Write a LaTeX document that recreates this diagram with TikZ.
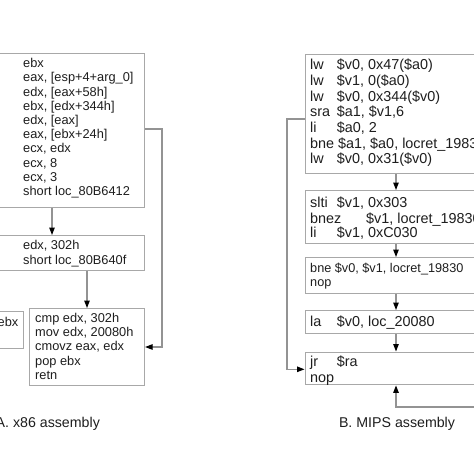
\documentclass[tikz,border=0pt]{standalone}
\usepackage{fontspec}
\setmainfont{Liberation Sans}
\usetikzlibrary{arrows.meta}
\tikzset{
  box/.style={draw=boxgray, line width=1.1pt, anchor=north west, inner sep=0pt},
  conn/.style={draw=linegray, line width=1.1pt},
  arr/.style={conn, -{Triangle[width=5.5pt,length=7.5pt,color=black]}},
  xtxt/.style={anchor=north west, inner sep=0pt, align=left, text=textcol,
    font=\fontsize{12.8}{14.2}\selectfont},
  mtxt/.style={anchor=north west, inner sep=0pt, align=left, text=textcol},
  captxt/.style={anchor=base, inner sep=0pt, text=textcol,
    font=\fontsize{14.2}{16}\selectfont},
}
\definecolor{boxgray}{HTML}{A8A8A8}
\definecolor{linegray}{HTML}{939393}
\definecolor{textcol}{HTML}{1E1E1E}
\newcommand{\mn}[1]{\makebox[26.7pt][l]{#1}}
\begin{document}
\begin{tikzpicture}[x=1pt,y=-1pt]
\useasboundingbox (0,0) rectangle (474,474);
\clip (0,0) rectangle (474,474);
\fill[white] (0,0) rectangle (474,474);
% ---------- x86 ----------
\node[box, minimum width=174pt, minimum height=154pt] (b1) at (-30,52.5) {};
\node[box, minimum width=174pt, minimum height=35pt] (b2) at (-30,235) {};
\node[box, minimum width=115pt, minimum height=77pt] (b3) at (29,308) {};
\node[box, minimum width=83pt, minimum height=37.2pt] (b0) at (-60,310.5) {};
\node[xtxt] (t1) at (23,57.56) {\strut ebx\\eax, [esp+4+arg\_0]\\edx, [eax+58h]\\ebx, [edx+344h]\\edx, [eax]\\eax, [ebx+24h]\\ecx, edx\\ecx, 8\\ecx, 3\\short loc\_80B6412};
\node[xtxt, font=\fontsize{12.8}{15}\selectfont] (t2) at (23,238.7) {\strut edx, 302h\\short loc\_80B640f};
\node[xtxt, font=\fontsize{12.8}{14.25}\selectfont] (t3) at (35,312.2) {\strut cmp edx, 302h\\mov edx, 20080h\\cmovz eax, edx\\pop ebx\\retn};
\node[xtxt, anchor=base east] (t0) at (18.5,326.4) {ebx};
\coordinate (xa) at (52,0);
\coordinate (xb) at (87,0);
\coordinate (xr) at (162,0);
\draw[arr] (b1.south -| xa) -- (b2.north -| xa);
\draw[arr] (b2.south -| xb) -- (b3.north -| xb);
\draw[arr] (b1.east |- 0,129) -| (xr |- 0,347) -- (b3.east |- 0,347);
\node[captxt, anchor=base west] (capA) at (-4.5,427.5) {A. x86 assembly};
% ---------- MIPS ----------
\node[box, minimum width=216pt, minimum height=119.5pt] (m1) at (304.5,53.5) {};
\node[box, minimum width=216pt, minimum height=53pt] (m2) at (304.5,190) {};
\node[box, minimum width=216pt, minimum height=35.5pt] (m3) at (304.5,257) {};
\node[box, minimum width=216pt, minimum height=23.3pt] (m4) at (304.5,310) {};
\node[box, minimum width=216pt, minimum height=32.8pt] (m5) at (304.5,351.5) {};
\node[mtxt, font=\fontsize{14.4}{15.67}\selectfont] (u1) at (310,58.8) {\strut\mn{lw}\$v0, 0x47(\$a0)\\\mn{lw}\$v1, 0(\$a0)\\\mn{lw}\$v0, 0x344(\$v0)\\\mn{sra}\$a1, \$v1,6\\\mn{li}\$a0, 2\\bne \$a1, \$a0, locret\_19830\\\mn{lw}\$v0, 0x31(\$v0)};
\node[mtxt, font=\fontsize{14.4}{14.5}\selectfont] (u2) at (310,196.25) {\strut\mn{slti}\$v1, 0x303\\\makebox[56pt][l]{bnez}\$v1, locret\_19830\\\mn{li}\$v1, 0xC030};
\node[mtxt, font=\fontsize{12.7}{13.7}\selectfont] (u3) at (310,262.6) {\strut bne \$v0, \$v1, locret\_19830\\nop};
\node[mtxt, anchor=base west, font=\fontsize{14.4}{15.67}\selectfont] (u4) at (310,326.4) {\mn{la}\$v0, loc\_20080};
\node[mtxt, font=\fontsize{14.4}{16}\selectfont] (u5) at (310,355.2) {\strut\mn{jr}\$ra\\nop};
\coordinate (mx) at (396,0);
\coordinate (ml) at (287,0);
\coordinate (mend) at (520,407);
\draw[arr] (m1.south -| mx) -- (m2.north -| mx);
\draw[arr] (m2.south -| mx) -- (m3.north -| mx);
\draw[arr] (m3.south -| mx) -- (m4.north -| mx);
\draw[arr] (m4.south -| mx) -- (m5.north -| mx);
\draw[arr] (m1.west |- 0,119) -| (ml |- 0,369.3) -- (m5.west |- 0,369.3);
\draw[arr] (mend) -| (m5.south -| mx);
\node[captxt] (capB) at (397,427.5) {B. MIPS assembly};
\end{tikzpicture}
\end{document}
